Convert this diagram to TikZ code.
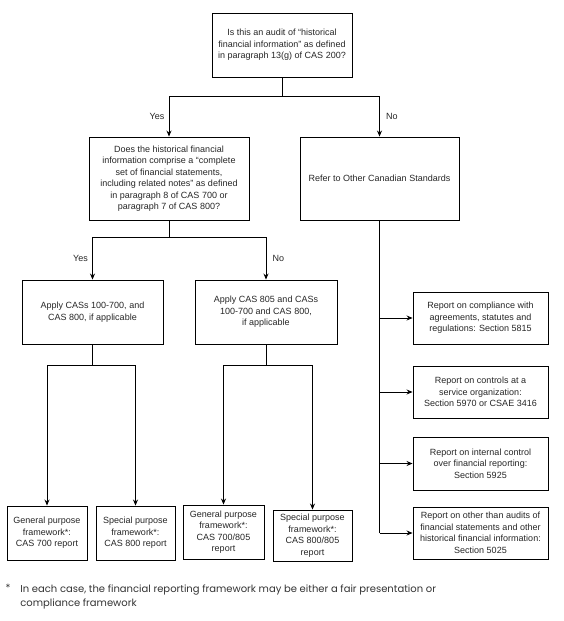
\documentclass[tikz,border=0pt]{standalone}
\usepackage{fontspec}
\setmainfont{Liberation Sans}
\newfontfamily\notefont{Poppins}
\usetikzlibrary{arrows.meta}

\begin{document}
\begin{tikzpicture}[x=1pt,y=-1pt,
    box/.style={draw, line width=0.9pt, align=center, inner sep=0pt,
                font=\fontsize{9}{11.5}\selectfont, text=black!85},
    arr/.style={-{Stealth[length=6pt,width=5pt]}},
    lab/.style={font=\fontsize{9}{11}\selectfont, text=black!85}]
    \useasboundingbox (0,0) rectangle (563,621);
    \tikzset{every path/.append style={line width=0.8pt}}

    % Preguntes
    \node[box, minimum width=140pt, minimum height=64pt] (q1) at (282,45)
        {Is this an audit of ``historical\\financial information'' as defined\\in paragraph 13(g) of CAS 200?};
    \node[box, minimum width=160pt, minimum height=83pt] (q2) at (169,178.5)
        {Does the historical financial\\information comprise a ``complete\\set of financial statements,\\including related notes'' as defined\\in paragraph 8 of CAS 700 or\\paragraph 7 of CAS 800?};
    \node[box, minimum width=159pt, minimum height=83pt] (refer) at (379.5,178.5)
        {Refer to Other Canadian Standards};

    % Aplicacio
    \node[box, minimum width=141pt, minimum height=64pt] (a1) at (92.5,312)
        {Apply CASs 100-700, and\\CAS 800, if applicable};
    \node[box, minimum width=142pt, minimum height=64pt] (a2) at (266,312)
        {Apply CAS 805 and CASs\\100-700 and CAS 800,\\if applicable};

    % Informes
    \node[box, minimum width=80pt, minimum height=54pt] (b1) at (47,533)
        {General purpose\\framework*:\\CAS 700 report};
    \node[box, minimum width=79pt, minimum height=54pt] (b2) at (135.5,533)
        {Special purpose\\framework*:\\CAS 800 report};
    \node[box, minimum width=81pt, minimum height=54pt] (b3) at (223.5,532)
        {General purpose\\framework*:\\CAS 700/805\\report};
    \node[box, minimum width=79pt, minimum height=51pt] (b4) at (312.5,535.5)
        {Special purpose\\framework*:\\CAS 800/805\\report};

    % Altres normes
    \node[box, minimum width=135pt, minimum height=52pt] (r1) at (480.5,318)
        {Report on compliance with\\agreements, statutes and\\regulations: Section 5815};
    \node[box, minimum width=135pt, minimum height=52pt] (r2) at (480.5,392)
        {Report on controls at a\\service organization:\\Section 5970 or CSAE 3416};
    \node[box, minimum width=135pt, minimum height=53pt] (r3) at (480.5,463.5)
        {Report on internal control\\over financial reporting:\\Section 5925};
    \node[box, minimum width=135pt, minimum height=52pt] (r4) at (480.5,533)
        {Report on other than audits of\\financial statements and other\\historical financial information:\\Section 5025};

    % Connectors
    \coordinate (s1) at (282,96);
    \coordinate (s2) at (169,237);
    \coordinate (s3) at (a1.south |- 0,365);
    \coordinate (s4) at (a2.south |- 0,365);
    \draw (q1.south) -- (s1);
    \draw[arr] (s1) -| node[pos=0.75, left=1pt, lab] {Yes} (q2.north);
    \draw[arr] (s1) -| node[pos=0.75, right=3pt, lab] {No} (refer.north);
    \draw (q2.south) -- (s2);
    \draw[arr] (s2) -| node[pos=0.75, left=1pt, lab] {Yes} (a1.north);
    \draw[arr] (s2) -| node[pos=0.75, right=3pt, lab] {No} (a2.north);
    \draw (a1.south) -- (s3);
    \draw[arr] (s3) -| (b1.north);
    \draw[arr] (s3) -| (b2.north);
    \draw (a2.south) -- (s4);
    \draw[arr] (s4) -| (b3.north);
    \draw[arr] (s4) -| (b4.north);
    \draw (refer.south) -- (refer.south |- r4.west);
    \foreach \r in {r1,r2,r3,r4}
        \draw[arr] (refer.south |- \r.west) -- (\r.west);

    % Nota
    \node[anchor=north west, align=left, inner sep=0pt, text=black!80,
          font=\notefont\fontsize{10}{14}\selectfont] (note) at (20,584)
        {In each case, the financial reporting framework may be either a fair presentation or\\compliance framework};
    \node[anchor=north, inner sep=0pt, text=black!80, font=\notefont\fontsize{10}{14}\selectfont]
        (star) at (8,584) {*};
\end{tikzpicture}
\end{document}
